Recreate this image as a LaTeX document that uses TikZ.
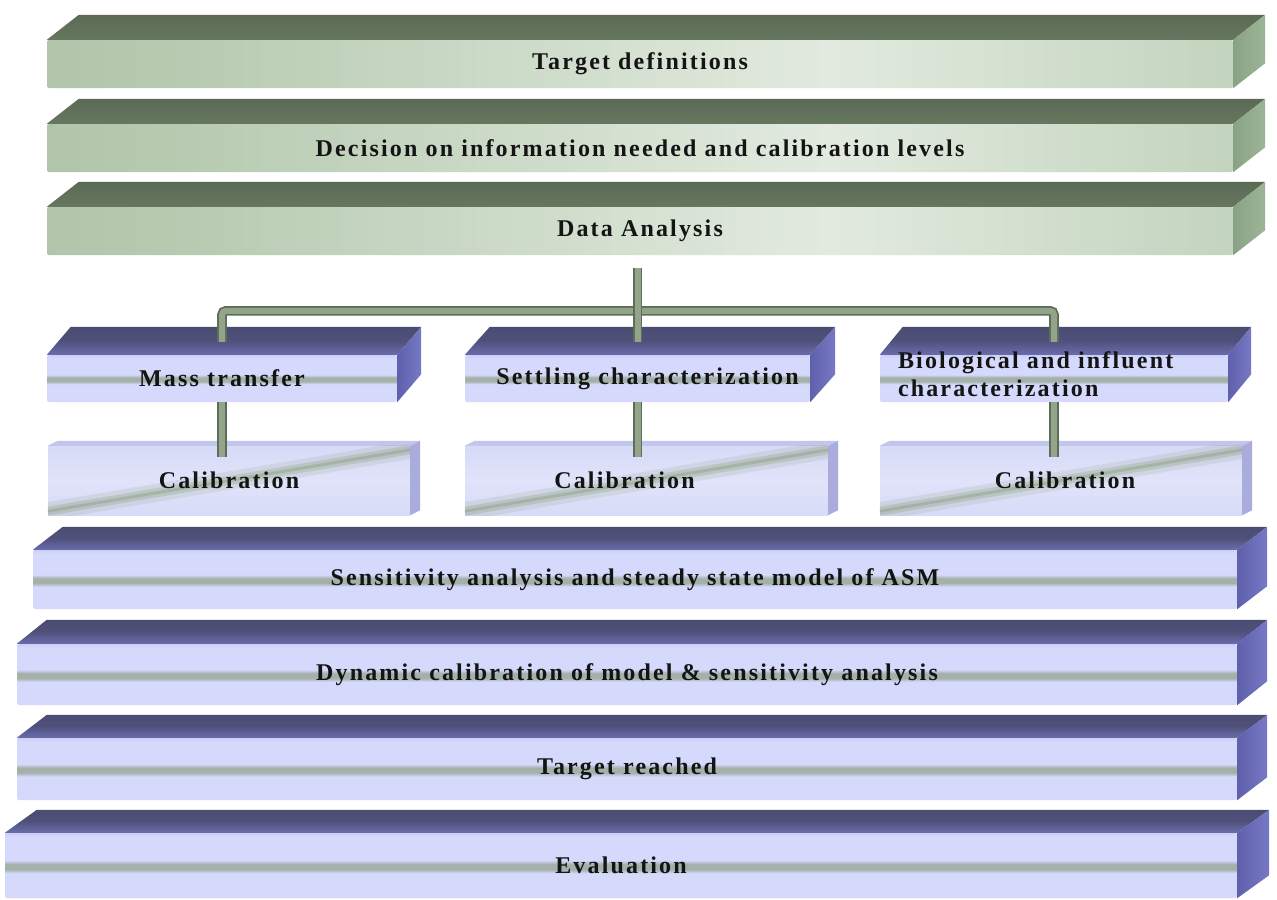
\documentclass[tikz,border=0pt]{standalone}
\usepackage{fontspec}
\setmainfont{Liberation Serif}[LetterSpace=9]
\usetikzlibrary{calc}
% colours
\definecolor{gA}{HTML}{93AD8B}
\definecolor{gB}{HTML}{B6CAB0}
\definecolor{gC}{HTML}{E2EADF}
\definecolor{gD}{HTML}{C3D4BE}
\definecolor{gT1}{HTML}{5B6A55}
\definecolor{gT2}{HTML}{66775F}
\definecolor{gS1}{HTML}{88A383}
\definecolor{gS2}{HTML}{9DB597}
\definecolor{bA}{HTML}{8689CE}
\definecolor{bB}{HTML}{A7ABE6}
\definecolor{bC}{HTML}{D5D9FB}
\definecolor{bG}{HTML}{A3B1AA}
\definecolor{bT1}{HTML}{4B4C72}
\definecolor{bT2}{HTML}{50517B}
\definecolor{bT3}{HTML}{6A6CAE}
\definecolor{bS1}{HTML}{5E60AC}
\definecolor{bS2}{HTML}{7779C4}
\definecolor{cA}{HTML}{B8BBE6}
\definecolor{cB}{HTML}{D3D6F6}
\definecolor{cC}{HTML}{E0E3F9}
\definecolor{cTop}{HTML}{C3C6EC}
\definecolor{cSide}{HTML}{A9ACDD}
\definecolor{conD}{HTML}{5E6D58}
\definecolor{conL}{HTML}{92A489}
\definecolor{streakc}{HTML}{879C78}
\pgfdeclarehorizontalshading{greenfront}{100bp}{color(0bp)=(gA); color(30bp)=(gB); color(58bp)=(gC); color(75bp)=(gD); color(100bp)=(gA)}
\pgfdeclareverticalshading{bluefront}{100bp}{color(0bp)=(bA); color(12bp)=(bB); color(26bp)=(bC); color(44bp)=(bC); color(47bp)=(bG); color(51bp)=(bG); color(54bp)=(bC); color(72bp)=(bC); color(86bp)=(bB); color(100bp)=(bA)}
\pgfdeclareverticalshading{calfront}{100bp}{color(0bp)=(cA); color(10bp)=(cB); color(50bp)=(cC); color(88bp)=(cB); color(100bp)=(cA)}
\tikzset{
  txt/.style={font=\fontsize{24bp}{28bp}\selectfont\bfseries, text=black!92, inner sep=0pt},
  greenfront/.style={shade, shading=greenfront, inner sep=0pt, rounded corners=2bp, txt},
  bluefront/.style={shade, shading=bluefront, inner sep=0pt, rounded corners=2bp, txt},
  calfront/.style={shade, shading=calfront, inner sep=0pt},
  greentop/.style={top color=gT1, bottom color=gT2},
  greenside/.style={left color=gS1, right color=gS2},
  bluetop/.style={top color=bT1, bottom color=bT3, middle color=bT2},
  blueside/.style={left color=bS1, right color=bS2},
  caltop/.style={fill=cTop},
  calside/.style={fill=cSide},
  conn/.style={draw=conD, double=conL, double distance=6bp, line width=1.8bp, rounded corners=4bp},
  streakwide/.style={draw=streakc, line width=18bp, opacity=0.16},
  streakmid/.style={draw=streakc, line width=9bp, opacity=0.28},
  streakthin/.style={draw=streakc, line width=3bp, opacity=0.4}
}
% name, x1, x2, y1 (front top), y2 (front bottom), dx, dy, kind, text
\newcommand\slab[9]{%
  \node[#8front, minimum width={(#3-#2)*1bp}, minimum height={(#5-#4)*1bp}] (#1) at ({(#2+#3)/2},{(#4+#5)/2}) {#9};
  \shade[#8top] (#1.north west) -- ++(#6,-#7) -- ($(#1.north east)+(#6,-#7)$) -- (#1.north east) -- cycle;
  \shade[#8side] (#1.north east) -- ++(#6,-#7) -- ($(#1.south east)+(#6,-#7)$) -- (#1.south east) -- cycle;
}
% name, x1, x2, y1, y2, text xshift
\newcommand\calslab[6]{%
  \node[calfront, minimum width={(#3-#2)*1bp}, minimum height={(#5-#4)*1bp}] (#1) at ({(#2+#3)/2},{(#4+#5)/2}) {};
  \fill[caltop] (#1.north west) -- ++(10,-5) -- ($(#1.north east)+(10,-5)$) -- (#1.north east) -- cycle;
  \fill[calside] (#1.north east) -- ++(10,-5) -- ($(#1.south east)+(10,-5)$) -- (#1.south east) -- cycle;
  \begin{scope}
    \clip (#1.south west) rectangle (#1.north east);
    \draw[streakwide] ($(#1.south west)+(0,-4)$) -- ($(#1.north east)+(0,4)$);
    \draw[streakmid] ($(#1.south west)+(0,-4)$) -- ($(#1.north east)+(0,4)$);
    \draw[streakthin] ($(#1.south west)+(0,-4)$) -- ($(#1.north east)+(0,4)$);
  \end{scope}
  \node[txt] (#1t) at ([xshift=#6bp]#1.center) {Calibration};
}
\begin{document}
\begin{tikzpicture}[x=1bp,y=-1bp]
\useasboundingbox[fill=white] (0,0) rectangle (1277,900);
% green bars
\slab{td}{47}{1233}{40}{88}{32}{25}{green}{Target definitions}
\slab{dec}{47}{1233}{124}{172}{32}{25}{green}{Decision on information needed and calibration levels}
\slab{da}{47}{1233}{207}{255}{32}{25}{green}{Data Analysis}
% middle boxes
\slab{mt}{47}{397}{355}{402}{24}{28}{blue}{Mass transfer}
\slab{sc}{465}{810}{355}{402}{25}{28}{blue}{\hspace*{20bp}Settling characterization}
\slab{bio}{880}{1228}{355}{402}{23}{28}{blue}{}
\node[txt, align=left, anchor=west] (biot) at ([xshift=18bp,yshift=4bp]bio.west) {Biological and influent\\characterization};
% calibration boxes
\calslab{c1}{48}{410}{446}{515}{0}
\calslab{c2}{465}{828}{446}{515}{-22}
\calslab{c3}{880}{1242}{446}{515}{4}
% blue bars
\slab{sa}{33}{1237}{550}{609}{30}{23}{blue}{Sensitivity analysis and steady state model of ASM}
\slab{dyn}{17}{1237}{644}{705}{30}{24}{blue}{Dynamic calibration of model \& sensitivity analysis}
\slab{tr}{17}{1237}{738}{800}{30}{23}{blue}{Target reached}
\slab{ev}{5}{1237}{833}{898}{32}{23}{blue}{Evaluation}
% connectors
\coordinate (daout) at ($(sc.north)+(0,-87)$);
\coordinate (hy) at ($(sc.north)+(0,-44)$);
\draw[conn] ([yshift=13bp]mt.north) |- (hy) -| ([yshift=13bp]bio.north);
\draw[conn] (daout) -- ([yshift=13bp]sc.north);
\draw[conn] (mt.south) -- ($(mt.south |- c1.north)+(0,11)$);
\draw[conn] (sc.south) -- ($(sc.south |- c2.north)+(0,11)$);
\draw[conn] (bio.south) -- ($(bio.south |- c3.north)+(0,11)$);
\end{tikzpicture}
\end{document}
